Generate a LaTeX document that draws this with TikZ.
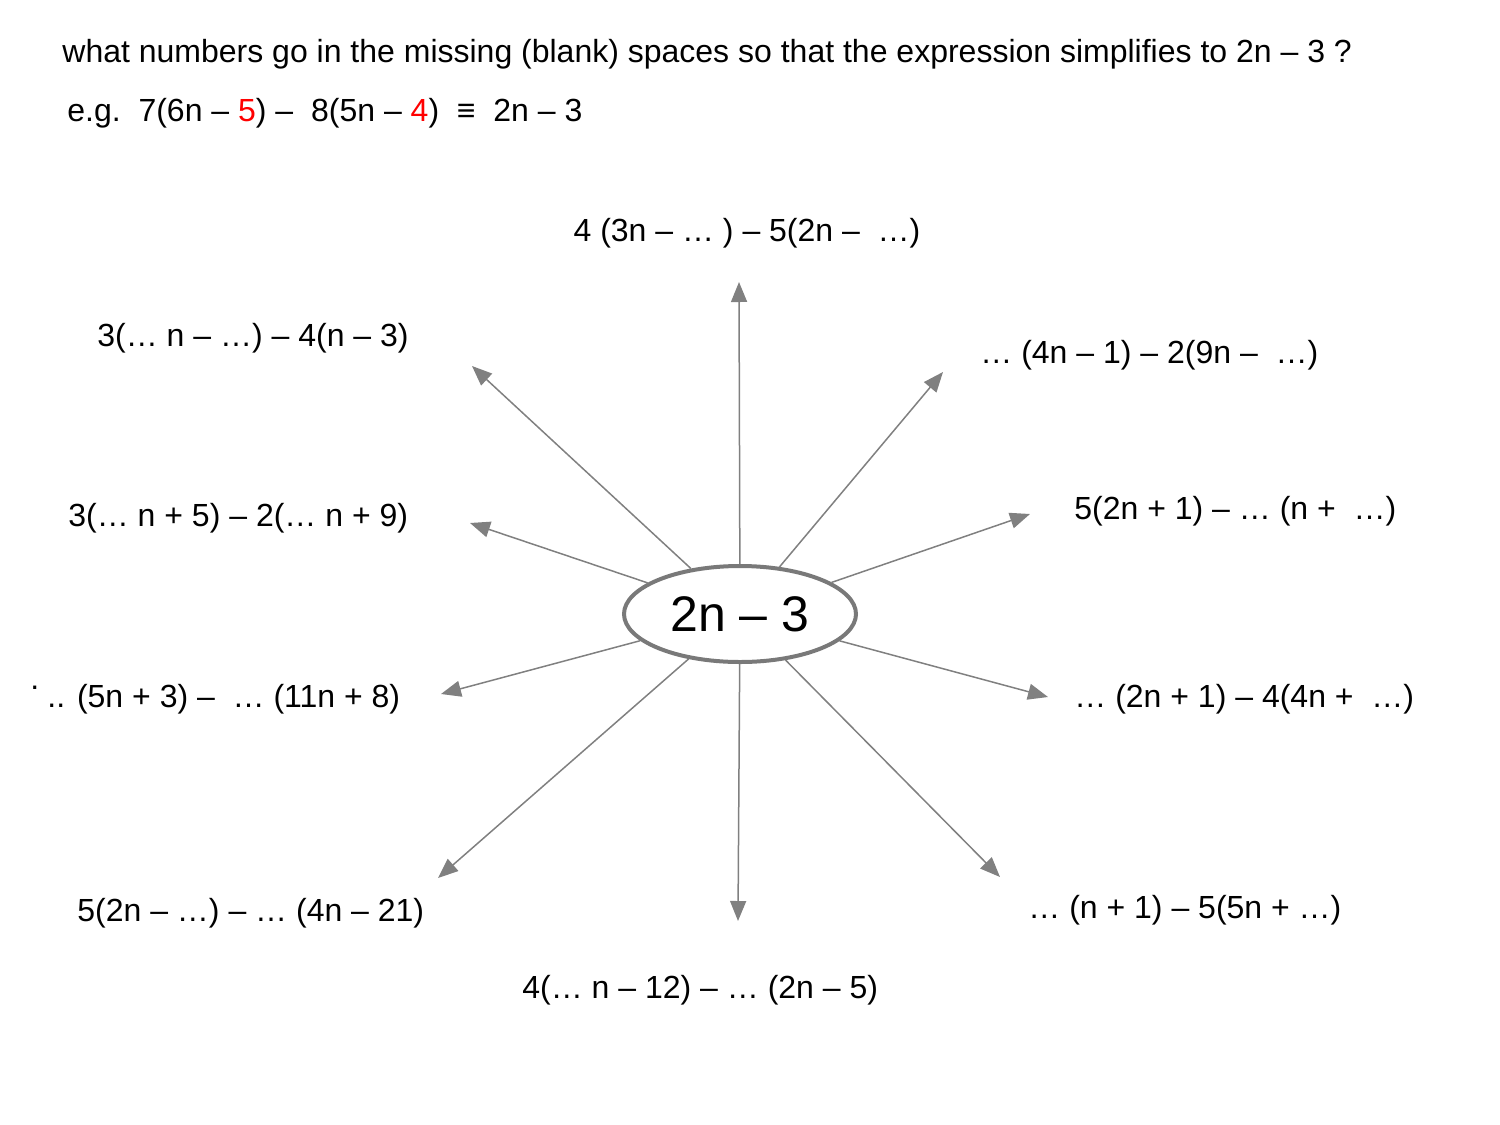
\documentclass[tikz,border=0pt]{standalone}
\usepackage{fontspec}
\setmainfont{Liberation Sans}
\usetikzlibrary{arrows.meta,shapes.geometric}
\begin{document}
\begin{tikzpicture}[x=0.5pt,y=-0.5pt,
  lbl/.style={anchor=west,inner sep=0pt,font=\fontsize{16}{19}\selectfont},
  arr/.style={draw=gray,line width=0.75pt,-{Triangle[length=10pt,width=8pt]}}]
\useasboundingbox (0,0) rectangle (1500,1125);
\node[lbl] (t) at (62,54) {what numbers go in the missing (blank) spaces so that the expression simplifies to 2n – 3 ?};
\node[lbl] (eg) at (67,113) {e.g.\ \ 7(6n – \textcolor{red}{5}) –\ \ 8(5n – \textcolor{red}{4})\ \ ≡\ \ 2n – 3};
\node[ellipse,draw=gray!95!black,line width=2pt,minimum width=116pt,minimum height=48pt,inner sep=0pt,font=\fontsize{25}{30}\selectfont] (c) at (740,614) {2n – 3};
\coordinate (a1) at (739,282);
\coordinate (a2) at (472,366);
\coordinate (a3) at (943,372);
\coordinate (a4) at (1030,514);
\coordinate (a5) at (470,523);
\coordinate (a6) at (441,694);
\coordinate (a7) at (1048,697);
\coordinate (a8) at (438,878);
\coordinate (a9) at (738,921);
\coordinate (a10) at (1000,877);
\foreach \i in {1,...,10} \draw[arr] (c) -- (a\i);
\node[lbl,anchor=center] (l1) at (747,233) {4 (3n – …\ ) – 5(2n –\ \ …)};
\node[lbl] (l2) at (97,338) {3(… n – …) – 4(n – 3)};
\node[lbl] (l3) at (980,355) {… (4n – 1) – 2(9n –\ \ …)};
\node[lbl] (l4) at (1074,511) {5(2n + 1) – … (n +\ \ …)};
\node[lbl] (l5) at (68,518) {3(… n + 5) – 2(… n + 9)};
\node[lbl] (l6a) at (30,688) {.};
\node[lbl] (l6) at (47,699) {.. (5n + 3) –\ \ … (11n + 8)};
\node[lbl] (l7) at (1074,699) {… (2n + 1) – 4(4n +\ \ …)};
\node[lbl] (l8) at (77,913) {5(2n – …) – … (4n – 21)};
\node[lbl] (l9) at (1028,910) {… (n + 1) – 5(5n + …)};
\node[lbl] (l10) at (522,990) {4(… n – 12) – … (2n – 5)};
\end{tikzpicture}
\end{document}
